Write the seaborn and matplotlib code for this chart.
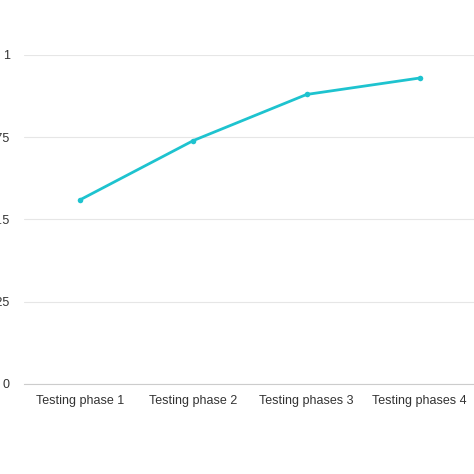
import matplotlib
matplotlib.use("Agg")
import matplotlib.pyplot as plt
import seaborn as sns
import pandas as pd

phases = ["Testing phase 1", "Testing phase 2", "Testing phases 3", "Testing phases 4"]
scores = [0.56, 0.74, 0.88, 0.93]
yticks = [0, 0.25, 0.5, 0.75, 1]
ylabels = ["0", "0.25", "0.5", "0.75", "1"]

df = pd.DataFrame({"phase": phases, "score": scores})

sns.set_style("white")
plt.rcParams["font.family"] = ["Liberation Sans", "DejaVu Sans"]

fig = plt.figure(figsize=(4.74, 4.74), dpi=100)
ax = fig.add_axes([0.05, 0.19, 0.955, 0.694])

sns.lineplot(data=df, x="phase", y="score", ax=ax, color="#1ec3cf",
             linewidth=2, marker="o", markersize=4, markeredgewidth=0, sort=False)

ax.set_xlim(-0.5, 3.5)
ax.set_ylim(0, 1)
ax.set_yticks(yticks)
ax.set_yticklabels(ylabels)
ax.grid(axis="y", color="#e6e6e6", linewidth=0.8)
ax.set_axisbelow(True)
for side in ["top", "right", "left"]:
    ax.spines[side].set_visible(False)
ax.spines["bottom"].set_color("#cccccc")
ax.tick_params(axis="both", length=0, labelsize=9, colors="#333333")
ax.tick_params(axis="y", pad=10)
ax.tick_params(axis="x", pad=8)
ax.set_xlabel("")
ax.set_ylabel("")

fig.savefig("out.png", dpi=100)
